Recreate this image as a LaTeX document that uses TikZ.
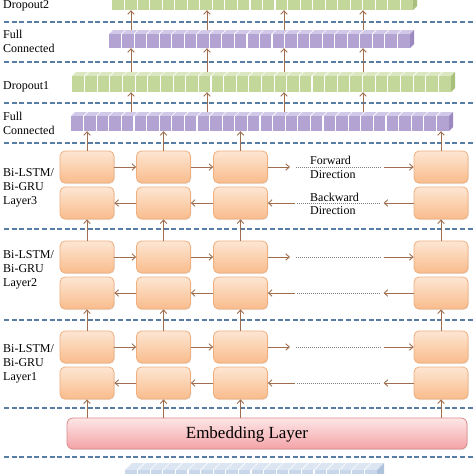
\documentclass[tikz,border=0pt]{standalone}
\usepackage{fontspec}
\setmainfont{Liberation Serif}
\usetikzlibrary{arrows.meta,fit,shadows,calc}
\definecolor{barPF}{HTML}{B3A3D3}
\definecolor{barPT}{HTML}{D2C8E8}
\definecolor{barPS}{HTML}{9B89C0}
\definecolor{barGF}{HTML}{C3D79B}
\definecolor{barGT}{HTML}{DAE7C0}
\definecolor{barGS}{HTML}{A8C07C}
\definecolor{barBF}{HTML}{C9D7EA}
\definecolor{barBT}{HTML}{DCE5F2}
\definecolor{barBS}{HTML}{AFC2DC}
\definecolor{sepc}{HTML}{577DA5}
\definecolor{arrc}{HTML}{9E6E4E}
\definecolor{cellT}{HTML}{FDE6D3}
\definecolor{cellB}{HTML}{F9BC8C}
\definecolor{cellD}{HTML}{EFAE7C}
\definecolor{embT}{HTML}{FDE6E6}
\definecolor{embB}{HTML}{F4A3A7}
\definecolor{embD}{HTML}{D98A8C}
\newcommand{\drawbar}[8]{%
  \coordinate (#1-a) at (#2,#3);
  \coordinate (#1-b) at (#4,#5);
  \node[fit=(#1-a)(#1-b),inner sep=0pt] (#1) {};
  \fill[#7T] (#2,#3+#8) -- (#2+#8,#3) -- (#4,#3) -- (#4-#8,#3+#8) -- cycle;
  \fill[#7S] (#4-#8,#3+#8) -- (#4,#3) -- (#4,#5-#8) -- (#4-#8,#5) -- cycle;
  \fill[#7F] (#2,#3+#8) rectangle (#4-#8,#5);
  \pgfmathsetmacro\bpitch{(#4-#8-#2)/#6}
  \pgfmathtruncatemacro\bnm{#6-1}
  \foreach \i in {1,...,\bnm}{
    \draw[white,line width=1.1pt] (#2+\i*\bpitch,#3+#8) -- (#2+\i*\bpitch,#5);
    \draw[white,line width=0.6pt] (#2+\i*\bpitch,#3+#8) -- (#2+\i*\bpitch+#8,#3);
  }
}
\begin{document}
\begin{tikzpicture}[x=1pt,y=-1pt,
  sep/.style={sepc,line width=1.5pt,dash pattern=on 5pt off 2.6pt},
  arr/.style={arrc,line width=0.9pt,-{Straight Barb[length=3.5pt,width=6.5pt]}},
  dots/.style={gray,line width=0.6pt,dash pattern=on 1pt off 1pt},
  cell/.style={draw=cellD,line width=0.8pt,rounded corners=5pt,top color=cellT,bottom color=cellB,
     minimum width=54pt,minimum height=32pt,inner sep=0pt,
     drop shadow={opacity=0.18,shadow xshift=0.8pt,shadow yshift=-1pt}},
  lab/.style={anchor=west,align=left,inner sep=0pt,font=\fontsize{12}{14}\selectfont},
  dirlab/.style={anchor=west,align=left,inner sep=0pt,font=\fontsize{12}{13.5}\selectfont}]
\useasboundingbox (0,0) rectangle (474,474);
\clip (0,0) rectangle (474,474);

% separators
\foreach \yy in {22,62,103,143,229,320,408,457}
  \draw[sep] (4,\yy) -- (474,\yy);

% bars
\drawbar{do2}{112}{-8}{417}{10}{24}{barG}{4}
\drawbar{fc2}{109}{30}{414}{48}{24}{barP}{4}
\drawbar{do1}{72}{72}{455}{92}{30}{barG}{4}
\drawbar{fc1}{71}{112}{453}{131}{30}{barP}{4}
\drawbar{inp}{125}{463}{384}{484}{20}{barB}{7}

% left labels
\node[lab] (tdo2) at (3,5.5) {Dropout2};
\node[lab] (tfc2) at (3,41) {Full\\Connected};
\node[lab] (tdo1) at (3,87) {Dropout1};
\node[lab] (tfc1) at (3,123.5) {Full\\Connected};
\node[lab] (tl3) at (3,188) {Bi-LSTM/\\Bi-GRU\\Layer3};
\node[lab] (tl2) at (3,270) {Bi-LSTM/\\Bi-GRU\\Layer2};
\node[lab] (tl1) at (3,364) {Bi-LSTM/\\Bi-GRU\\Layer1};

% cells
\foreach \l/\y in {3/151,2/241,1/331}{
  \foreach \c/\x in {1/87,2/163.5,3/240.5,4/441}{
    \node[cell] (L\l-t\c) at (\x,\y+16) {};
    \node[cell] (L\l-b\c) at (\x,\y+52) {};
  }
  \coordinate (F\l a) at ($(L\l-t3.east)+(22,0)$);
  \coordinate (F\l b) at ($(L\l-t3.east)+(28,0)$);
  \coordinate (F\l c) at ($(L\l-t4.west)+(-33,0)$);
  \coordinate (F\l d) at ($(L\l-t4.west)+(-30,0)$);
  \coordinate (B\l a) at ($(L\l-b3.east)+(27,0)$);
  \coordinate (B\l b) at ($(L\l-b3.east)+(29,0)$);
  \coordinate (B\l c) at ($(L\l-b4.west)+(-33,0)$);
  \coordinate (B\l d) at ($(L\l-b4.west)+(-30,0)$);
  \draw[arr] (L\l-t1.east) -- (L\l-t2.west);
  \draw[arr] (L\l-t2.east) -- (L\l-t3.west);
  \draw[arr] (L\l-t3.east) -- (F\l a);
  \draw[dots] (F\l b) -- (F\l c);
  \draw[arr] (F\l d) -- (L\l-t4.west);
  \draw[arr] (L\l-b2.west) -- (L\l-b1.east);
  \draw[arr] (L\l-b3.west) -- (L\l-b2.east);
  \draw[arr] (B\l a) -- (L\l-b3.east);
  \draw[dots] (B\l b) -- (B\l c);
  \draw[arr] (L\l-b4.west) -- (B\l d);
}

% direction labels
\node[dirlab] (fwd) at (310,167.5) {Forward\\Direction};
\node[dirlab] (bwd) at (310,204) {Backward\\Direction};

% embedding
\node[draw=embD,line width=0.8pt,rounded corners=6pt,top color=embT,bottom color=embB,
  minimum width=400pt,minimum height=31pt,inner sep=0pt,
  drop shadow={opacity=0.18,shadow xshift=0.8pt,shadow yshift=-1pt}] (emb) at (267,433.5) {};
\node[font=\fontsize{17}{20}\selectfont,inner sep=0pt] (embt) at (247,434) {Embedding Layer};

% vertical arrows
\foreach \c in {1,2,3,4}{
  \draw[arr] (emb.north -| L1-b\c) -- (L1-b\c.south);
  \draw[arr] (L1-t\c.north) -- (L2-b\c.south);
  \draw[arr] (L2-t\c.north) -- (L3-b\c.south);
  \draw[arr] (L3-t\c.north) -- (L3-t\c.north |- fc1.south);
}
\foreach \k/\x in {1/131,2/207,3/284,4/363}{
  \coordinate (k\k) at (\x,0);
  \draw[arr] (fc1.north -| k\k) -- (do1.south -| k\k);
  \draw[arr] (do1.north -| k\k) -- (fc2.south -| k\k);
  \draw[arr] (fc2.north -| k\k) -- (do2.south -| k\k);
}
\end{tikzpicture}
\end{document}
